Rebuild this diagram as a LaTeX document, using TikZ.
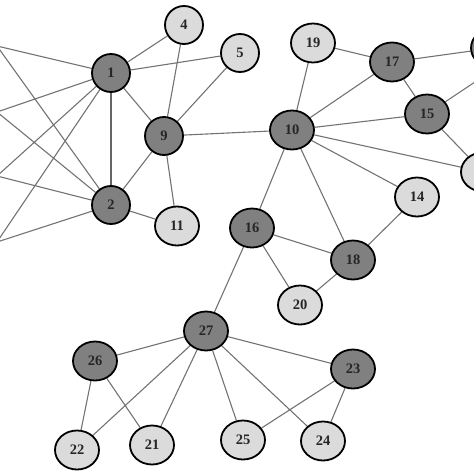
\documentclass[tikz,border=0pt]{standalone}
\usepackage{fontspec}
\setmainfont{Liberation Serif}
\usetikzlibrary{shapes.geometric,backgrounds}
\begin{document}
\begin{tikzpicture}[x=1pt,y=-1pt,
  nd/.style={ellipse,draw=black,line width=1.8pt,inner sep=0pt,
    font=\fontsize{14.5}{14.5}\selectfont\bfseries,text=black!85},
  dk/.style={nd,fill=black!50},
  lt/.style={nd,fill=black!14},
  szone/.style={minimum width=38pt,minimum height=38pt},
  sztwo/.style={minimum width=44pt,minimum height=39pt},
  ed/.style={draw=black!55,line width=1.1pt},
  edthick/.style={draw=black!60,line width=1.6pt}]
\useasboundingbox (0,0) rectangle (474,474);
\clip (0,0) rectangle (474,474);
\node[dk,szone] (n1) at (111,73) {1};
\node[dk,szone] (n2) at (111,205) {2};
\node[lt,szone] (n4) at (184,25) {4};
\node[lt,szone] (n5) at (240,53) {5};
\node[dk,szone] (n9) at (164,136) {9};
\node[lt,sztwo] (n11) at (177,226) {11};
\node[lt,sztwo] (n19) at (313,43) {19};
\node[dk,sztwo] (n17) at (392,62) {17};
\node[dk,sztwo] (n15) at (427,114) {15};
\node[dk,sztwo] (n10) at (292,130) {10};
\node[lt,sztwo] (n14) at (417,197) {14};
\node[dk,sztwo] (n16) at (252,228) {16};
\node[dk,sztwo] (n18) at (353,260) {18};
\node[lt,sztwo] (n20) at (300,305) {20};
\node[dk,sztwo] (n23) at (353,369) {23};
\node[lt,sztwo] (n24) at (323,441) {24};
\node[lt,sztwo] (n25) at (243,440) {25};
\node[dk,sztwo] (n27) at (206,331) {27};
\node[dk,sztwo] (n26) at (95,361) {26};
\node[lt,sztwo] (n22) at (77,450) {22};
\node[lt,sztwo] (n21) at (152,445) {21};
\node[dk,sztwo] (r1) at (493,48) {};
\node[lt,sztwo] (r2) at (483,172) {};
\coordinate (l1) at (-3,46);
\coordinate (l2) at (-3,112);
\coordinate (l3) at (-3,176);
\coordinate (l4) at (-3,242);
\coordinate (r3) at (490,72);
\begin{scope}[on background layer]
\path[ed] (l1) -- (n1) (l1) -- (n2)
  (l2) -- (n1) (l2) -- (n2)
  (l3) -- (n1) (l3) -- (n2)
  (l4) -- (n1) (l4) -- (n2);
\path[edthick] (n1) -- (n2);
\path[ed] (n1) -- (n4) (n1) -- (n5) (n1) -- (n9)
  (n9) -- (n4) (n9) -- (n5) (n9) -- (n10) (n9) -- (n2) (n9) -- (n11)
  (n2) -- (n11);
\path[ed] (n10) -- (n19) (n10) -- (n17) (n10) -- (n15) (n10) -- (r2)
  (n10) -- (n14) (n10) -- (n18) (n10) -- (n16)
  (n19) -- (n17) (n17) -- (n15) (n17) -- (r1)
  (n15) -- (r3) (n15) -- (r2)
  (n14) -- (n18) (n16) -- (n18) (n16) -- (n20) (n18) -- (n20)
  (n16) -- (n27);
\path[ed] (n27) -- (n26) (n27) -- (n22) (n27) -- (n21) (n27) -- (n25)
  (n27) -- (n24) (n27) -- (n23)
  (n26) -- (n22) (n26) -- (n21)
  (n23) -- (n25) (n23) -- (n24);
\end{scope}
\end{tikzpicture}
\end{document}
